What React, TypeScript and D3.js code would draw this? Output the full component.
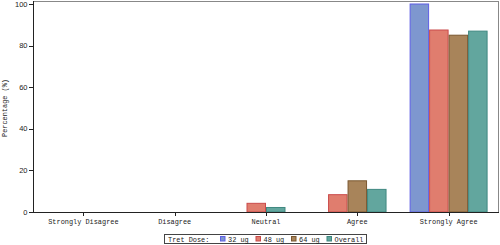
import React from "react";
import * as d3 from "d3";

const categories = ["Strongly Disagree", "Disagree", "Neutral", "Agree", "Strongly Agree"];
const seriesNames = ["32 ug", "48 ug", "64 ug", "Overall"];
// null = no bar
const dose32: (number | null)[] = [null, null, null, null, 100];
const dose48: (number | null)[] = [null, null, 4.17, 8.33, 87.5];
const dose64: (number | null)[] = [null, null, null, 15, 85];
const overall: (number | null)[] = [null, null, 2.17, 10.87, 86.96];
const seriesValues = [dose32, dose48, dose64, overall];
const yTicks = [0, 20, 40, 60, 80, 100];

const fills = ["#7e97cf", "#e07d6e", "#a8845a", "#62a69e"];
const strokes = ["#5f5fe6", "#c94b4b", "#7a5830", "#3f8880"];

const W = 500;
const H = 245;
const left = 33;
const right = 499;
const top = 1;
const bottom = 212;

const mono = "'Liberation Mono', 'DejaVu Sans Mono', monospace";
const sans = "'Liberation Sans', Arial, sans-serif";

export default function App() {
  const x = d3.scaleBand<string>().domain(categories).range([left, right]).paddingInner(0).paddingOuter(0.052);
  const y = d3.scaleLinear().domain([0, 100]).range([bottom, 4]);
  const barW = x.step() * 0.2135;

  const bars: JSX.Element[] = [];
  categories.forEach((c, ci) => {
    const present = seriesValues
      .map((s, si) => ({ si, v: s[ci] }))
      .filter((d) => d.v !== null && d.v !== undefined) as { si: number; v: number }[];
    const center = (x(c) as number) + x.bandwidth() / 2;
    const start = center - (present.length * barW) / 2;
    present.forEach((d, k) => {
      const x0 = start + k * barW;
      bars.push(
        <rect
          key={`${ci}-${d.si}`}
          x={x0 + 0.5}
          y={y(d.v)}
          width={barW - 1}
          height={bottom - y(d.v)}
          fill={fills[d.si]}
          stroke={strokes[d.si]}
          strokeWidth={1}
        />
      );
    });
  });

  // legend layout
  const legX = 164.5;
  const legY = 234.5;
  const legW = 202;
  const legH = 9;
  const swatchX = [220, 255.5, 291, 326.5];

  return (
    <svg width={W} height={H} style={{ position: "absolute", left: 0, top: 0 }}>
      <rect x={0} y={0} width={W} height={H} fill="#fff" />
      {/* frame top/right */}
      <line x1={left} x2={right} y1={top + 0.5} y2={top + 0.5} stroke="#888" strokeWidth={1} />
      <line x1={right - 0.5} x2={right - 0.5} y1={top} y2={bottom} stroke="#888" strokeWidth={1} />
      {bars}
      {/* axes */}
      <line x1={left + 0.5} x2={left + 0.5} y1={top} y2={bottom + 0.5} stroke="#222" strokeWidth={1} />
      <line x1={left} x2={right} y1={bottom + 0.5} y2={bottom + 0.5} stroke="#222" strokeWidth={1} />
      {yTicks.map((t) => (
        <g key={t}>
          <line x1={left - 4} x2={left} y1={Math.round(y(t)) + 0.5} y2={Math.round(y(t)) + 0.5} stroke="#222" />
          <text x={left - 5.5} y={y(t) + 2.5} fontSize={7.5} fontFamily={sans} textAnchor="end" fill="#222">
            {t}
          </text>
        </g>
      ))}
      {categories.map((c) => {
        const cx = (x(c) as number) + x.bandwidth() / 2;
        return (
          <g key={c}>
            <line x1={Math.round(cx) + 0.5} x2={Math.round(cx) + 0.5} y1={bottom} y2={bottom + 4} stroke="#222" />
            <text x={cx} y={224} fontSize={6.9} fontFamily={mono} textAnchor="middle" fill="#222">
              {c}
            </text>
          </g>
        );
      })}
      <text
        transform={`translate(7,${(4 + bottom) / 2}) rotate(-90)`}
        fontSize={6.9}
        fontFamily={mono}
        textAnchor="middle"
        fill="#222"
      >
        Percentage (%)
      </text>
      {/* legend */}
      <rect x={legX} y={legY} width={legW} height={legH} fill="#fff" stroke="#444" strokeWidth={1} />
      <text x={168} y={241.5} fontSize={6.9} fontFamily={mono} fill="#222">
        Tret Dose:
      </text>
      {seriesNames.map((n, i) => (
        <g key={n}>
          <rect x={swatchX[i] + 0.5} y={236.5} width={4.5} height={4.5} fill={fills[i]} stroke={strokes[i]} strokeWidth={1} />
          <text x={swatchX[i] + 8} y={241.5} fontSize={6.9} fontFamily={mono} fill="#222">
            {n}
          </text>
        </g>
      ))}
    </svg>
  );
}
